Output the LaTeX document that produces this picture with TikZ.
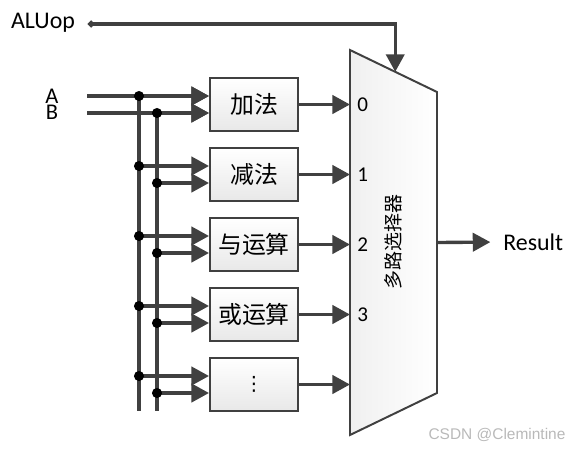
\documentclass[tikz,border=0pt]{standalone}
\usepackage{fontspec}
\setmainfont{Carlito}
\newfontfamily\cjk{Noto Sans CJK SC}
\newfontfamily\markfont{Liberation Sans}
\newfontfamily\symfont{DejaVu Sans}
\usetikzlibrary{arrows.meta,calc}
\definecolor{wirecol}{HTML}{404040}
\tikzset{
  wire/.style={line width=2.4pt,draw=wirecol},
  sig/.style={wire,-{Triangle[length=12.5pt,width=13pt]}},
  unit/.style={draw=wirecol,line width=1.4pt,top color=white,bottom color=gray!18,
    minimum width=2.2cm,minimum height=1.325cm,inner sep=0pt,
    font=\cjk\fontsize{17}{20}\selectfont},
  junct/.style={circle,fill=black,inner sep=0pt,minimum size=7.2pt},
  digit/.style={anchor=west,inner sep=0pt,font=\fontsize{15}{17}\selectfont},
  operand/.style={inner sep=0pt,align=center,font=\fontsize{16}{11}\selectfont}
}
\begin{document}
\begin{tikzpicture}[x=0.025cm,y=-0.025cm]
  \useasboundingbox (0,0) rectangle (580,450);
  % multiplexer
  \coordinate (mtl) at (350,50);
  \coordinate (mtr) at (437,92);
  \coordinate (mbr) at (437,393);
  \coordinate (mbl) at (350,435);
  \draw[draw=wirecol,line width=1.4pt,left color=gray!12,right color=white]
    (mtl) -- (mtr) -- (mbr) -- (mbl) -- cycle;
  \node[rotate=90,font=\cjk\fontsize{13.5}{15}\selectfont] (mtext) at (393.5,242) {多路选择器};
  \coordinate (msel) at ($(mtl)!0.52!(mtr)$);
  \coordinate (mout) at ($(mtr)!0.5!(mbr)$);
  % select line
  \node[font=\fontsize{17}{20}\selectfont] (aluop) at (43,23) {ALUop};
  \coordinate (opin) at (88,24);
  \draw[wire,{Circle[length=4.5pt]}-{Triangle[length=12.5pt,width=13pt]}] (opin) -| (msel);
  % operands
  \node[operand] (AB) at (52,104.5) {A\\B};
  \coordinate (Ain) at (87,96);
  \coordinate (Bin) at (87,113);
  \coordinate (aend) at (139,411);
  \coordinate (bend) at (157,411);
  \foreach \i/\t in {0/加法,1/减法,2/与运算,3/或运算,4/{\symfont\fontsize{14}{16}\selectfont ⋮}}{
    \node[unit] (op\i) at (254,{104.5+70*\i}) {\t};
    \coordinate (a\i) at (139,{96+70*\i});
    \coordinate (b\i) at (157,{113+70*\i});
    \draw[sig] (a\i) -- (a\i -| op\i.west);
    \draw[sig] (b\i) -- (b\i -| op\i.west);
    \draw[sig] (op\i.east) -- (op\i.east -| mtl);
  }
  \draw[sig] (Ain) -- (Ain -| op0.west);
  \draw[sig] (Bin) -- (Bin -| op0.west);
  \draw[wire] (a0) -- (aend);
  \draw[wire] (b0) -- (bend);
  \foreach \i in {0,...,4}{
    \node[junct] at (a\i) {};
    \node[junct] at (b\i) {};
  }
  \foreach \i in {0,...,3}
    \node[digit] (in\i) at ($(op\i.east -| mtl)+(7,0)$) {\i};
  % output
  \node[anchor=west,inner sep=0pt,font=\fontsize{17}{20}\selectfont] (res) at (503,242) {Result};
  \draw[sig,shorten >=9pt] (mout) -- (res.west);
  %\node at (0,0) {};
  \node[font=\markfont\fontsize{11}{13}\selectfont,text=gray!55] (mark) at (497,435) {CSDN @Clemintine};
\end{tikzpicture}
\end{document}
